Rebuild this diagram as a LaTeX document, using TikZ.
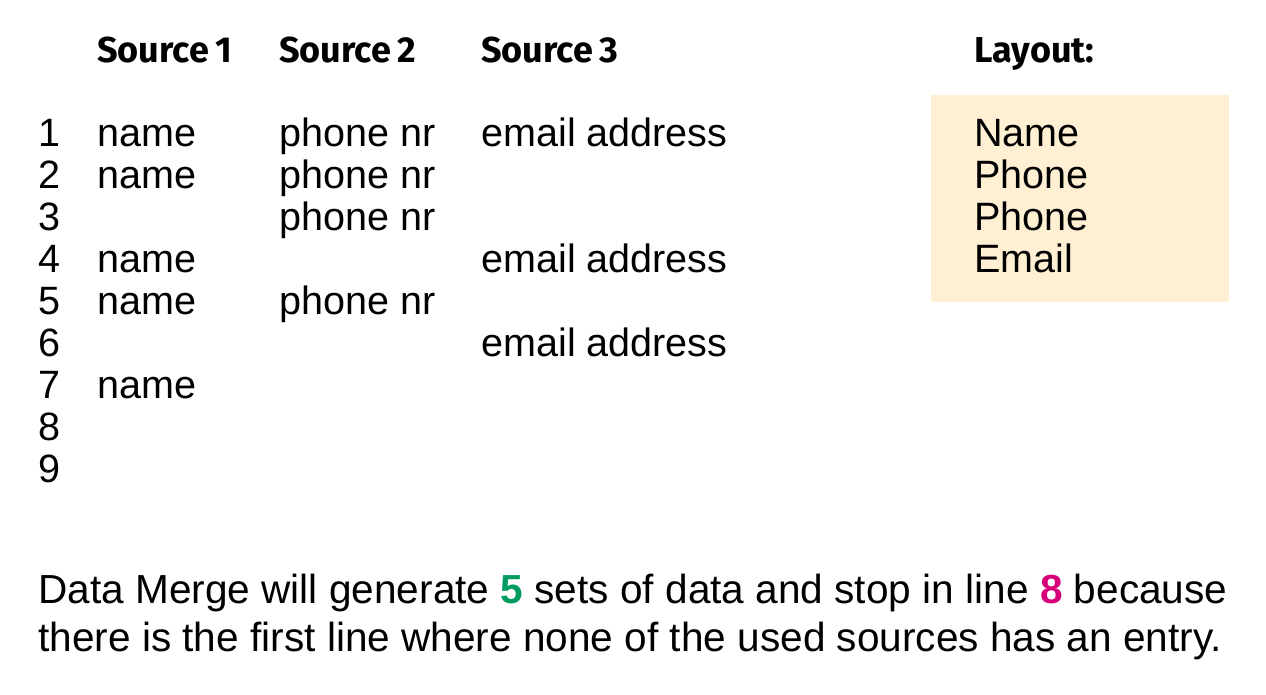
\documentclass[tikz,border=0pt]{standalone}
\usepackage{fontspec}
\setmainfont{Liberation Sans}
\newfontfamily\headfont{Fira Sans}
\usetikzlibrary{positioning}
\definecolor{boxfill}{RGB}{255,240,212}
\definecolor{cntgreen}{RGB}{0,155,95}
\definecolor{cntpink}{RGB}{215,0,120}
\tikzset{cell/.style={anchor=base west, inner sep=0pt, font=\fontsize{22.5}{24}\selectfont}}
\tikzset{head/.style={anchor=base west, inner sep=0pt, font=\headfont\bfseries\fontsize{20.5}{22}\selectfont}}
\tikzset{note/.style={anchor=base west, inner sep=0pt, font=\fontsize{23.1}{26}\selectfont}}
\begin{document}
\begin{tikzpicture}[x=0.02cm, y=-0.02cm]
	\useasboundingbox (0,0) rectangle (1266,694);
	\fill[boxfill] (931,95) rectangle (1229,302);

	\node[head] (h1) at (97,62) {Source\,1};
	\node[head] (h2) at (279,62) {Source\,2};
	\node[head] (h3) at (481,62) {Source\,3};
	\node[head] (hl) at (974,62) {Layout:};

	\foreach \i in {1,...,9}
		\node[cell] (n\i) at (38,{146+42*(\i-1)}) {\i};
	% source columns
	\foreach \i in {1,2,4,5,7}
		\node[cell] (a\i) at (97,{146+42*(\i-1)}) {name};
	\foreach \i in {1,2,3,5}
		\node[cell] (b\i) at (279,{146+42*(\i-1)}) {phone nr};
	\foreach \i in {1,4,6}
		\node[cell] (c\i) at (481,{146+42*(\i-1)}) {email address};
	% layout fields
	\foreach \t [count=\i] in {Name,Phone,Phone,Email}
		\node[cell] (l\i) at (974,{146+42*(\i-1)}) {\t};

	\node[note] (t1) at (38,603) {Data Merge will generate {\bfseries\color{cntgreen}5} sets of data and stop in line {\bfseries\color{cntpink}8} because};
	\node[note] (t2) at (38,651) {there is the first line where none of the used sources has an entry.};
\end{tikzpicture}
\end{document}
